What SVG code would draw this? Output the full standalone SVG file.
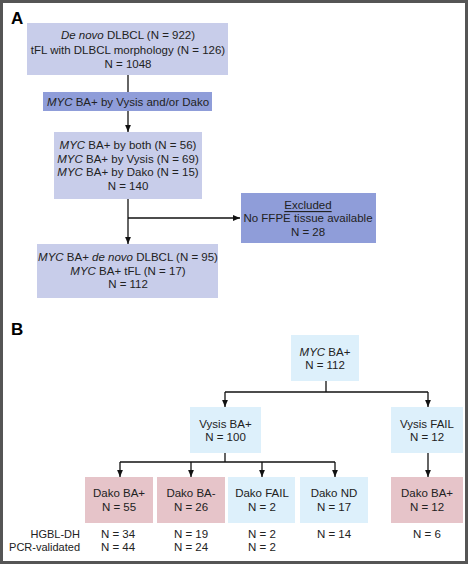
<svg xmlns="http://www.w3.org/2000/svg" width="474" height="565" viewBox="0 0 474 565">
<defs>
<marker id="ah" viewBox="0 0 8 8" refX="8" refY="4" markerWidth="7" markerHeight="7" markerUnits="userSpaceOnUse" orient="auto">
<path d="M0,0.7 L8,4 L0,7.3 z" fill="#111"/>
</marker>
<style>
text{font-family:"Liberation Sans",Arial,sans-serif;font-size:11.5px;fill:#222;text-anchor:middle;dominant-baseline:central}
.lab{font-size:17px;font-weight:bold;fill:#000;text-anchor:start}
.r{text-anchor:end;font-size:11px}
.lav{fill:#c8cdea}
.dk{fill:#8f9dd9}
.lb{fill:#ddf0fb}
.pk{fill:#e6c4c9}
.c{fill:none;stroke:#111;stroke-width:1.3}
.ca{fill:none;stroke:#111;stroke-width:1.3;marker-end:url(#ah)}
</style>
</defs>
<rect x="0" y="0" width="474" height="565" fill="#fff"/>
<rect x="1.5" y="1.5" width="465" height="561" fill="none" stroke="#555" stroke-width="3"/>
<text class="lab" x="11" y="18">A</text>
<text class="lab" x="11" y="329">B</text>
<g id="connectors">
<line class="c" x1="128" y1="75" x2="128" y2="92"/>
<line class="ca" x1="128" y1="111" x2="128" y2="132"/>
<line class="ca" x1="128" y1="199" x2="128" y2="244"/>
<line class="ca" x1="128" y1="218" x2="240" y2="218"/>
<line class="c" x1="326" y1="381" x2="326" y2="392"/>
<polyline class="c" points="225,392 428,392"/>
<line class="ca" x1="225" y1="392" x2="225" y2="407"/>
<line class="ca" x1="428" y1="392" x2="428" y2="407"/>
<line class="c" x1="225" y1="453" x2="225" y2="462"/>
<polyline class="c" points="120,462 335,462"/>
<line class="ca" x1="120" y1="462" x2="120" y2="477"/>
<line class="ca" x1="191" y1="462" x2="191" y2="477"/>
<line class="ca" x1="262" y1="462" x2="262" y2="477"/>
<line class="ca" x1="335" y1="462" x2="335" y2="477"/>
<line class="ca" x1="428" y1="453" x2="428" y2="477"/>
</g>
<g id="n1">
<rect class="lav" x="27" y="23" width="201" height="52"/>
<text x="128" y="35"><tspan font-style="italic">De novo</tspan> DLBCL (N = 922)</text>
<text x="128" y="50">tFL with DLBCL morphology (N = 126)</text>
<text x="128" y="64">N = 1048</text>
</g>
<g id="n2">
<rect class="dk" x="43" y="92" width="169" height="19"/>
<text x="128" y="101.5"><tspan font-style="italic">MYC</tspan> BA+ by Vysis and/or Dako</text>
</g>
<g id="n3">
<rect class="lav" x="54" y="132" width="148" height="67"/>
<text x="128" y="145"><tspan font-style="italic">MYC</tspan> BA+ by both (N = 56)</text>
<text x="128" y="159"><tspan font-style="italic">MYC</tspan> BA+ by Vysis (N = 69)</text>
<text x="128" y="172"><tspan font-style="italic">MYC</tspan> BA+ by Dako (N = 15)</text>
<text x="128" y="186">N = 140</text>
</g>
<g id="n4">
<rect class="dk" x="241" y="193" width="135" height="50"/>
<text x="308" y="205" text-decoration="underline">Excluded</text>
<text x="308" y="218">No FFPE tissue available</text>
<text x="308" y="232">N = 28</text>
</g>
<g id="n5">
<rect class="lav" x="37" y="244" width="181" height="54"/>
<text x="128" y="257"><tspan font-style="italic">MYC</tspan> BA+ <tspan font-style="italic">de novo</tspan> DLBCL (N = 95)</text>
<text x="128" y="271"><tspan font-style="italic">MYC</tspan> BA+ tFL (N = 17)</text>
<text x="128" y="284">N = 112</text>
</g>
<g id="b1">
<rect class="lb" x="291" y="335" width="68" height="46"/>
<text x="325" y="352"><tspan font-style="italic">MYC</tspan> BA+</text>
<text x="325" y="365">N = 112</text>
</g>
<g id="b2">
<rect class="lb" x="190" y="407" width="71" height="46"/>
<text x="225.5" y="424">Vysis BA+</text>
<text x="225.5" y="437">N = 100</text>
</g>
<g id="b3">
<rect class="lb" x="391" y="407" width="72" height="46"/>
<text x="427" y="424">Vysis FAIL</text>
<text x="427" y="437">N = 12</text>
</g>
<g id="b4">
<rect class="pk" x="85" y="477" width="68" height="46"/>
<text x="119" y="493">Dako BA+</text>
<text x="119" y="507">N = 55</text>
</g>
<g id="b5">
<rect class="pk" x="157" y="477" width="68" height="46"/>
<text x="191" y="493">Dako BA-</text>
<text x="191" y="507">N = 26</text>
</g>
<g id="b6">
<rect class="lb" x="228" y="477" width="67" height="46"/>
<text x="262" y="493">Dako FAIL</text>
<text x="262" y="507">N = 2</text>
</g>
<g id="b7">
<rect class="lb" x="300" y="477" width="68" height="46"/>
<text x="334" y="493">Dako ND</text>
<text x="334" y="507">N = 17</text>
</g>
<g id="b8">
<rect class="pk" x="391" y="477" width="72" height="46"/>
<text x="427" y="493">Dako BA+</text>
<text x="427" y="507">N = 12</text>
</g>
<g id="labels">
<text class="r" x="80" y="534">HGBL-DH</text>
<text class="r" x="80" y="547">PCR-validated</text>
<text x="118" y="534">N = 34</text>
<text x="191" y="534">N = 19</text>
<text x="262" y="534">N = 2</text>
<text x="334" y="534">N = 14</text>
<text x="427" y="534">N = 6</text>
<text x="118" y="547">N = 44</text>
<text x="191" y="547">N = 24</text>
<text x="262" y="547">N = 2</text>
</g>
</svg>
